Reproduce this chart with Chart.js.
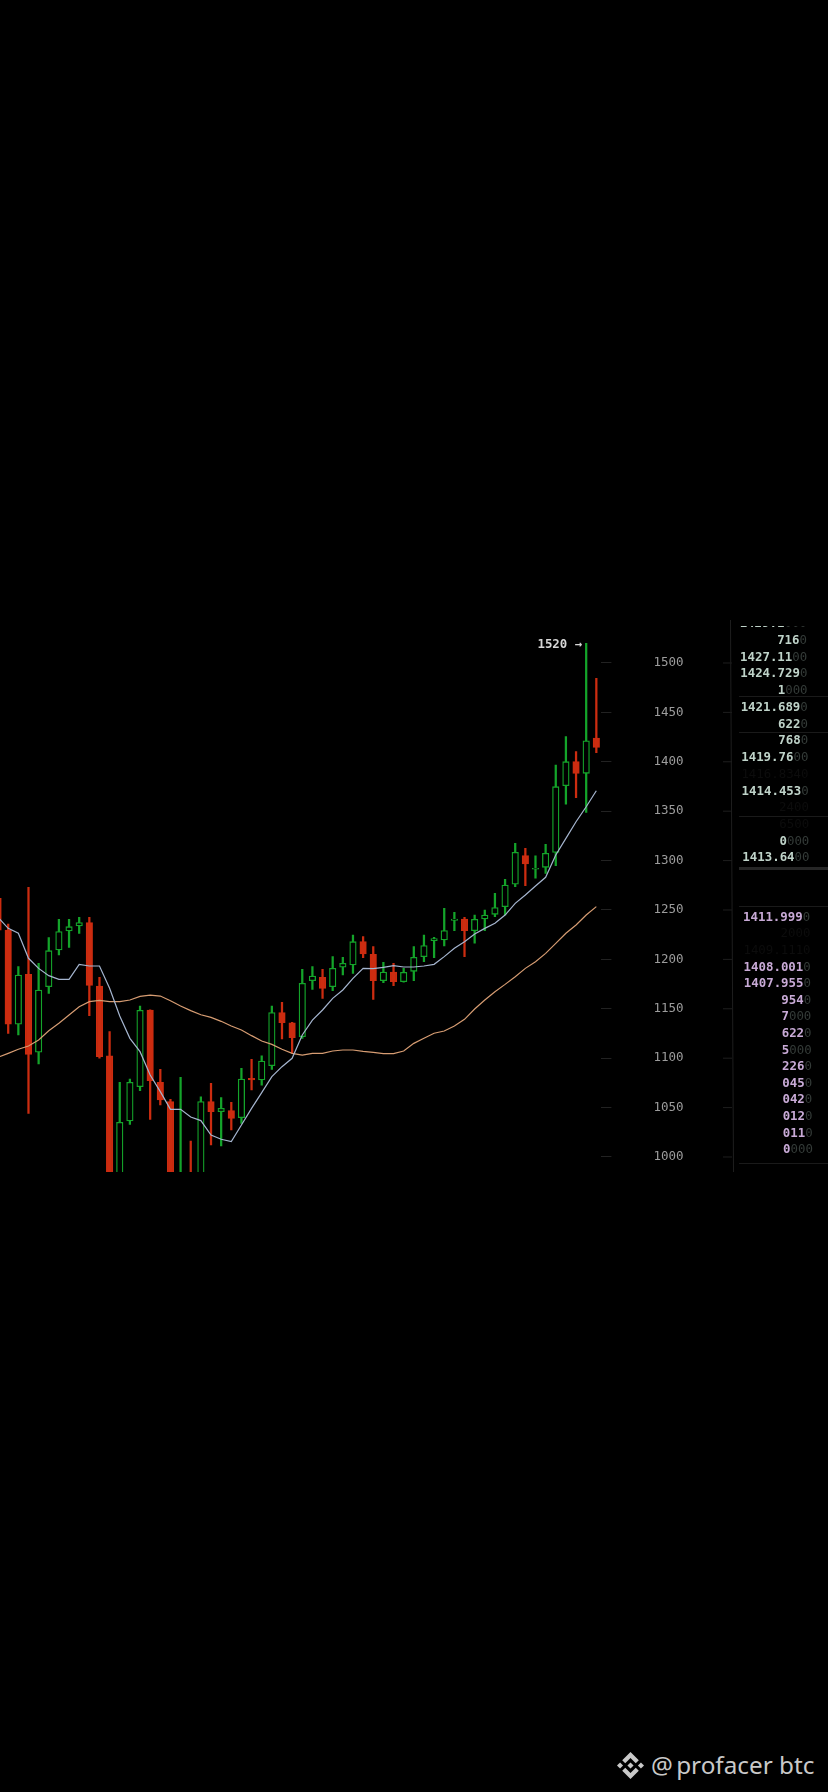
<!DOCTYPE html>
<html>
<head>
<meta charset="utf-8">
<title>profacer btc</title>
<script src="https://cdn.jsdelivr.net/npm/chart.js@4"></script>
<style>
  html, body { margin: 0; background: #000; width: 828px; height: 1792px; overflow: hidden; }
  #chart { position: absolute; left: -7px; top: 620px; }
  #book { position: absolute; left: 733px; top: 626px; width: 95px; height: 546px; overflow: hidden; }
  .row { position: absolute; white-space: pre; text-align: right; line-height: 16px;
         font: bold 12.4px/16px "DejaVu Sans Mono", monospace; }
  .row i { font-style: normal; font-weight: normal; color: #343b38; }
  .row.faint { color: #0c0c0c; font-weight: normal; }
  .rule { position: absolute; left: 739px; right: 0; height: 1px; background: #1a1a1a; }
  #mark { position: absolute; left: 617px; top: 1752px; width: 27px; height: 27px; }
  #handle { position: absolute; left: 651px; top: 1745px; color: #c9c9c9; white-space: pre;
            font: 24.3px/40px "Noto Sans", sans-serif; }
  #handle span { margin-right: -3px; }
</style>
</head>
<body>
<canvas id="chart" width="835" height="552"></canvas>
<div class="rule" style="top:696px"></div>
<div class="rule" style="top:732px"></div>
<div class="rule" style="top:816px"></div>
<div class="rule" style="top:867px;height:3px;background:#262626"></div>
<div class="rule" style="top:906px"></div>
<div class="rule" style="top:1163px"></div>
<div id="book"></div>
<svg id="mark" viewBox="0 0 126.61 126.61" fill="#c9c9c9">
  <path d="M38.73 53.2l24.59-24.58 24.6 24.6 14.3-14.31L63.32 0 24.43 38.9z"/>
  <path d="M0 63.31l14.3-14.31 14.31 14.31-14.31 14.3z"/>
  <path d="M38.73 73.41l24.59 24.59 24.6-24.6 14.31 14.29-38.9 38.91-38.91-38.88-.02-.02z"/>
  <path d="M98 63.31l14.3-14.31 14.31 14.3-14.31 14.32z"/>
  <path d="M77.83 63.3L63.32 48.78 52.59 59.51l-1.24 1.23-2.54 2.54 14.51 14.5 14.51-14.47z"/>
</svg>
<div id="handle"><span>@ </span>profacer btc</div>

<script>
const opens = [1261.8, 1229.7, 1134.3, 1184.9, 1106, 1172.4, 1209.5, 1228.7, 1233.8, 1237.2,
  1173, 1102.5, 950, 1036.4, 1071.2, 1148.8, 1075.5, 1056, 960, 975,
  960, 1056, 1045.9, 1046.9, 1039.8, 1079.6, 1077.9, 1092.4, 1146.1, 1135.9,
  1121.8, 1178.5, 1181.8, 1172.4, 1192, 1194.3, 1217.9, 1205.1, 1178.5, 1187.2,
  1177.4, 1187.9, 1202.8, 1219, 1219.6, 1239.5, 1240.9, 1229.1, 1240.9, 1245.6,
  1253.4, 1276, 1305, 1291.2, 1293.2, 1308.3, 1375.8, 1400.1, 1388.3, 1424];
const highs = [1262, 1235.8, 1192.6, 1272.9, 1196, 1222, 1240.5, 1240.5, 1242.6, 1242.6,
  1181.8, 1126.8, 1075.5, 1078.9, 1152.8, 1149, 1088.7, 1058.3, 1080.6, 1016.2,
  1061, 1074.5, 1060, 1055.3, 1089.7, 1098.8, 1102.5, 1152.8, 1156.5, 1136.3,
  1189.9, 1192.6, 1189.9, 1202.8, 1202.1, 1224.7, 1223, 1212.9, 1197, 1196,
  1191, 1212.9, 1224.7, 1222.3, 1251.7, 1247.6, 1242.6, 1244.9, 1250, 1266.9,
  1281, 1317.5, 1312.4, 1304.7, 1316.5, 1396.7, 1425.4, 1410.2, 1520, 1484.4];
const lows = [1229.5, 1125.1, 1123.5, 1044.2, 1094.1, 1165.6, 1204.4, 1212.2, 1226.4, 1143,
  1100, 950, 940, 1033, 1067.1, 1038.1, 1052.6, 950, 950, 945,
  950, 1012.1, 1011.1, 1027.3, 1034, 1067.8, 1072.8, 1088.7, 1119.4, 1105,
  1120, 1169.7, 1160.6, 1168.3, 1184.2, 1185.9, 1201.7, 1159.6, 1176.4, 1173.4,
  1177, 1178.5, 1197.7, 1201.7, 1213.6, 1229.1, 1202.8, 1216.3, 1229.1, 1243.2,
  1244.9, 1273.6, 1274.6, 1282.1, 1287.1, 1294.8, 1357.2, 1363.6, 1348.8, 1409.2];
const closes = [1229.5, 1134.3, 1184.2, 1103.9, 1169, 1208.8, 1228.1, 1233.1, 1237.2, 1173.7,
  1101.5, 960, 1035, 1075.5, 1148.4, 1077.2, 1057.7, 960, 980, 950,
  1056, 1045.9, 1049.2, 1039.1, 1078.9, 1077.9, 1097.1, 1146.1, 1135.9, 1120.8,
  1175.8, 1183.2, 1170.7, 1190.9, 1196, 1217.9, 1205.5, 1178.5, 1187.2, 1177.4,
  1186.9, 1202.1, 1213.9, 1221, 1229.1, 1240.9, 1229.1, 1240.5, 1244.9, 1252.4,
  1275.3, 1308.4, 1296.6, 1292.2, 1307.4, 1374.8, 1400.1, 1388.3, 1421.3, 1414.6];
const ma7 = [1242.6, 1231.4, 1226.4, 1201.1, 1190.9, 1183.5, 1179.8, 1179.8, 1195, 1193.3,
  1193.3, 1170.7, 1142.7, 1120.1, 1106.6, 1083, 1066.1, 1048.2, 1048.2, 1040.5,
  1036.8, 1022.2, 1017.9, 1015.5, 1032.4, 1049.2, 1065.1, 1081.3, 1091.4, 1099.9,
  1123.5, 1138.6, 1148.8, 1160.6, 1169, 1180.8, 1190.9, 1190.6, 1192, 1193.6,
  1192.3, 1192.3, 1193.3, 1195, 1202.8, 1211.2, 1217.9, 1225.7, 1231.4, 1236.5,
  1244.9, 1256.7, 1265.2, 1274.3, 1283.1, 1305.6, 1322.5, 1339.3, 1354.5, 1370.7];
const ma25 = [1100.9, 1104.9, 1109, 1112.3, 1118.4, 1127.8, 1135.3, 1143.7, 1152.1, 1157.2,
  1158.6, 1157.2, 1157.2, 1158.9, 1162.6, 1163.9, 1162.9, 1158.2, 1152.8, 1148.1,
  1144, 1141.3, 1137.3, 1132.6, 1128.5, 1122.8, 1117.4, 1114, 1109, 1104.9,
  1103.2, 1104.9, 1104.9, 1107.3, 1108.3, 1108.3, 1106.9, 1105.9, 1104.6, 1104.6,
  1107.3, 1115, 1120.1, 1125.2, 1127.5, 1132.6, 1139.3, 1149.8, 1158.9, 1167.3,
  1174.7, 1182.5, 1190.9, 1197.7, 1206.1, 1216.2, 1226.4, 1234.8, 1244.9, 1253.4];
const yTicks = [1000, 1050, 1100, 1150, 1200, 1250, 1300, 1350, 1400, 1450, 1500];
const peakLabel = '1520 \u2192';

// order book column: [bright part, dimmed zeros], rows with no bright part are nearly invisible
const bookUpper = [['1429.1', '000'], ['716', '0'], ['1427.11', '00'], ['1424.729', '0'], ['1', '000'],
  ['1421.689', '0'], ['622', '0'], ['768', '0'], ['1419.76', '00'], ['', '1416.8340'],
  ['1414.453', '0'], ['', '2400'], ['', '6500'], ['0', '000'], ['1413.64', '00']];
const bookLower = [['1411.999', '0'], ['', '2000'], ['', '1409.1110'], ['1408.001', '0'], ['1407.955', '0'],
  ['954', '0'], ['7', '000'], ['622', '0'], ['5', '000'], ['226', '0'],
  ['045', '0'], ['042', '0'], ['012', '0'], ['011', '0'], ['0', '000']];

const GREEN = '#14a42a';
const RED = '#cc2c10';
const labels = opens.map((_, i) => String(i));
const isUp = (i) => closes[i] >= opens[i];

function addBookRows(rows, firstY, step, color) {
  const book = document.getElementById('book');
  rows.forEach((r, i) => {
    const y = firstY + i * step;
    const div = document.createElement('div');
    div.className = r[0] ? 'row' : 'row faint';
    div.style.color = r[0] ? color : '';
    div.style.top = (y - 8 - 626) + 'px';
    // the column leans a little to the right further down
    div.style.right = (828 - 807 - (y - 640) * 0.0115) + 'px';
    div.innerHTML = r[0] ? r[0] + '<i>' + r[1] + '</i>' : r[1];
    book.appendChild(div);
  });
}
addBookRows(bookUpper, 623.3, 16.72, '#bfd3c9');
addBookRows(bookLower, 916.7, 16.6, '#c8aad6');

// second row of tick marks, the column border and the label at the top candle
const extras = {
  id: 'extras',
  afterDraw(chart) {
    const c = chart.ctx;
    const y = chart.scales.y;
    const x = chart.scales.x;
    c.save();
    c.strokeStyle = '#1e1e1e';
    c.lineWidth = 1;
    c.beginPath();
    c.moveTo(737.5, 0);
    c.lineTo(740.5, 552);
    yTicks.forEach((v) => {
      const py = y.getPixelForValue(v);
      c.moveTo(730, py);
      c.lineTo(739, py);
    });
    c.stroke();
    const peak = highs.indexOf(Math.max(...highs));
    c.fillStyle = '#d6d6d6';
    c.font = 'bold 12.4px "DejaVu Sans Mono"';
    c.textAlign = 'right';
    c.textBaseline = 'middle';
    c.fillText(peakLabel, x.getPixelForValue(peak) - 4, y.getPixelForValue(highs[peak]) + 1.5);
    c.restore();
  }
};

const ctx = document.getElementById('chart').getContext('2d');
const chart = new Chart(ctx, {
  type: 'bar',
  plugins: [extras],
  data: {
    labels: labels,
    datasets: [
      {
        type: 'line',
        label: 'MA7',
        data: ma7,
        borderColor: '#a5b5cf',
        borderWidth: 1.2,
        pointRadius: 0,
        tension: 0,
        order: 0
      },
      {
        type: 'line',
        label: 'MA25',
        data: ma25,
        borderColor: '#d69c72',
        borderWidth: 1.2,
        pointRadius: 0,
        tension: 0,
        order: 1
      },
      {
        label: 'body',
        data: opens.map((o, i) => [o, closes[i]]),
        grouped: false,
        barThickness: 6.5,
        borderWidth: 1.3,
        borderSkipped: false,
        borderColor: (c) => (isUp(c.dataIndex) ? GREEN : RED),
        backgroundColor: (c) => (isUp(c.dataIndex) ? '#000' : RED),
        order: 2
      },
      {
        label: 'wick',
        data: lows.map((l, i) => [l, highs[i]]),
        grouped: false,
        barThickness: 1.6,
        borderWidth: 0,
        backgroundColor: (c) => (isUp(c.dataIndex) ? GREEN : RED),
        order: 3
      }
    ]
  },
  options: {
    responsive: false,
    animation: false,
    layout: { padding: 0 },
    plugins: { legend: { display: false }, tooltip: { enabled: false } },
    scales: {
      x: { display: false, offset: true },
      y: {
        position: 'right',
        min: 984.8,
        max: 1543.5,
        afterBuildTicks: (axis) => { axis.ticks = yTicks.map((value) => ({ value })); },
        // the tick labels must not push the plot area in from the canvas edges
        afterFit: (axis) => { axis.width = 226.6; axis.paddingTop = 0; axis.paddingBottom = 0; },
        border: { display: false },
        grid: { drawOnChartArea: false, color: '#222', tickLength: 10 },
        ticks: {
          padding: 42,
          color: '#9c9c9c',
          font: { family: '"DejaVu Sans Mono"', size: 12.5 },
          callback: (v) => String(v)
        }
      }
    }
  }
});
</script>
</body>
</html>
